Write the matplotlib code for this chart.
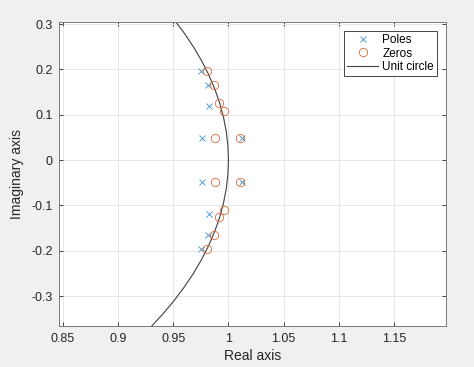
import matplotlib
matplotlib.use('Agg')
import matplotlib.pyplot as plt
import numpy as np

# pole/zero locations (conjugate pairs)
pole_re = [0.9753, 0.9813, 0.9828, 0.9764, 1.0127]
pole_im = [0.197, 0.165, 0.119, 0.048, 0.048]
zero_re = [0.981, 0.987, 0.9916, 0.9964, 0.988, 1.010]
zero_im = [0.197, 0.165, 0.126, 0.109, 0.048, 0.048]

plt.rcParams['font.family'] = ['Liberation Sans', 'DejaVu Sans']

fig = plt.figure(figsize=(4.74, 3.67), dpi=100, facecolor='#f0f0f0')
ax = fig.add_axes([0.1255, 0.1117, 0.8155, 0.8275])

# unit circle
theta = np.linspace(0, 2 * np.pi, 200)
ax.plot(np.cos(theta), np.sin(theta), color='#404040', linewidth=0.8,
        label='Unit circle', zorder=2)

px = pole_re + pole_re
py = pole_im + [-v for v in pole_im]
zx = zero_re + zero_re
zy = zero_im + [-v for v in zero_im]

ax.plot(px, py, linestyle='none', marker='x', markersize=4.5,
        markeredgewidth=0.6, color='#3a8cc8', label='Poles', zorder=3)
ax.plot(zx, zy, linestyle='none', marker='o', markersize=6,
        markeredgewidth=0.6, markerfacecolor='none', color='#dd6a3a',
        label='Zeros', zorder=3)

ax.set_xlim(0.847, 1.197)
ax.set_ylim(-0.366, 0.304)
ax.set_xticks([0.85, 0.9, 0.95, 1, 1.05, 1.1, 1.15])
ax.set_xticklabels(['0.85', '0.9', '0.95', '1', '1.05', '1.1', '1.15'])
ax.set_yticks([-0.3, -0.2, -0.1, 0, 0.1, 0.2, 0.3])
ax.set_yticklabels(['-0.3', '-0.2', '-0.1', '0', '0.1', '0.2', '0.3'])

ax.grid(True, color='#e3e3e3', linewidth=0.6)
ax.set_axisbelow(True)
ax.tick_params(direction='in', length=3, width=0.6, colors='#262626',
               labelsize=9, top=True, right=True, pad=5)
for s in ax.spines.values():
    s.set_color('#7a7a7a')
    s.set_linewidth(0.7)

ax.set_xlabel('Real axis', fontsize=10, color='#262626', labelpad=3)
ax.set_ylabel('Imaginary axis', fontsize=10, color='#262626', labelpad=5)

h, l = ax.get_legend_handles_labels()
order = [1, 2, 0]
leg = ax.legend([h[i] for i in order], [l[i] for i in order], loc='upper right',
                fontsize=8.5, frameon=True, fancybox=False, framealpha=1,
                edgecolor='#262626', handlelength=2.6, borderpad=0.25,
                labelspacing=0.15, handletextpad=0.35, borderaxespad=0,
                bbox_to_anchor=(0.976, 0.972))
leg.get_frame().set_linewidth(0.6)

plt.savefig('out.png', dpi=100, facecolor=fig.get_facecolor())
